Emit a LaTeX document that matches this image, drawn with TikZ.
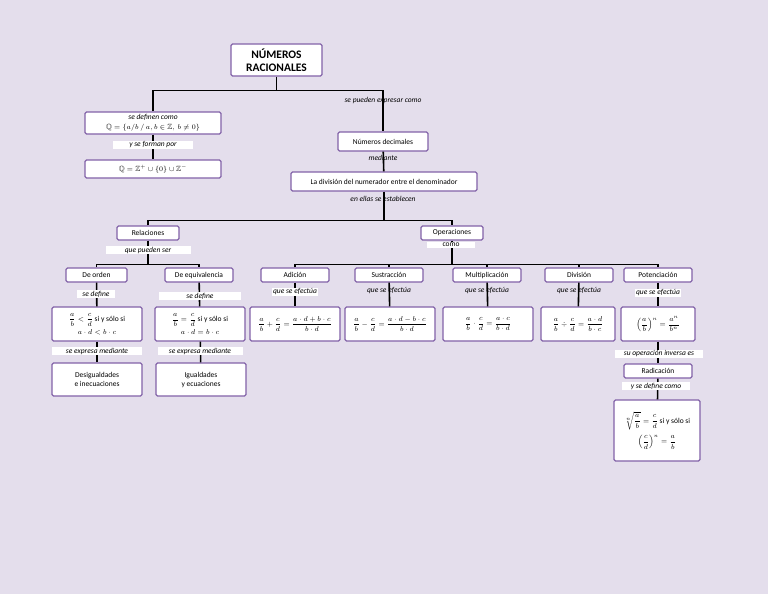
\documentclass[tikz,border=0pt]{standalone}
\usepackage{fontspec}
\setmainfont{Carlito}
\usepackage{amsmath,amssymb}
\definecolor{bg}{HTML}{E4DEEC}
\definecolor{bc}{HTML}{8262A8}
\begin{document}
\begin{tikzpicture}[x=1pt,y=-1pt,
  box/.style={draw=bc,fill=white,line width=1.3pt,rounded corners=1.5pt,inner sep=1pt,align=center,font=\fontsize{7.5}{9}\selectfont},
  lbl/.style={inner sep=1pt,align=center,font=\fontsize{7.5}{9}\selectfont\itshape},
  wl/.style={lbl,fill=white},
  con/.style={line width=1.6pt}]
\fill[bg] (0,0) rectangle (768,594);
\useasboundingbox (0,0) rectangle (768,594);
% boxes
\node[box,minimum width=91,minimum height=32,font=\fontsize{11.5}{12.5}\selectfont\bfseries] (title) at (276.5,60) {NÚMEROS\\RACIONALES};
\node[box,minimum width=136,minimum height=22] (def1) at (153,123) {\itshape se definen como\\[1pt]$\mathbb{Q}=\{a/b\ /\ a,b\in\mathbb{Z},\,b\neq0\}$};
\node[box,minimum width=136,minimum height=18] (def2) at (153,169) {$\mathbb{Q}=\mathbb{Z}^{+}\cup\{0\}\cup\mathbb{Z}^{-}$};
\node[box,minimum width=90,minimum height=19] (dec) at (383,141.5) {Números decimales};
\node[box,minimum width=186,minimum height=19] (divi) at (384,181.5) {La división del numerador entre el denominador};
\node[box,minimum width=62,minimum height=14] (rel) at (148,233) {Relaciones};
\node[box,minimum width=62,minimum height=14] (ope) at (452,233) {Operaciones};
\node[box,minimum width=61,minimum height=14] (ord) at (96.5,275) {De orden};
\node[box,minimum width=68,minimum height=14] (equ) at (199,275) {De equivalencia};
\node[box,minimum width=68,minimum height=14] (adi) at (295,275) {Adición};
\node[box,minimum width=68,minimum height=14] (sus) at (389,275) {Sustracción};
\node[box,minimum width=68,minimum height=14] (mul) at (487,275) {Multiplicación};
\node[box,minimum width=68,minimum height=14] (dvs) at (579,275) {División};
\node[box,minimum width=68,minimum height=14] (pot) at (658,275) {Potenciación};
\node[box,minimum width=90,minimum height=34] (fo) at (97,324) {$\dfrac{a}{b}<\dfrac{c}{d}$ si y sólo si\\[2pt]$a\cdot d<b\cdot c$};
\node[box,minimum width=90,minimum height=34] (fe) at (200,324) {$\dfrac{a}{b}=\dfrac{c}{d}$ si y sólo si\\[2pt]$a\cdot d=b\cdot c$};
\node[box,minimum width=90,minimum height=34] (fa) at (295,324) {$\dfrac{a}{b}+\dfrac{c}{d}=\dfrac{a\cdot d+b\cdot c}{b\cdot d}$};
\node[box,minimum width=90,minimum height=34] (fs) at (390,324) {$\dfrac{a}{b}-\dfrac{c}{d}=\dfrac{a\cdot d-b\cdot c}{b\cdot d}$};
\node[box,minimum width=90,minimum height=34] (fm) at (488,324) {$\dfrac{a}{b}\cdot\dfrac{c}{d}=\dfrac{a\cdot c}{b\cdot d}$};
\node[box,minimum width=74,minimum height=34] (fd) at (578,324) {$\dfrac{a}{b}\div\dfrac{c}{d}=\dfrac{a\cdot d}{b\cdot c}$};
\node[box,minimum width=74,minimum height=34] (fp) at (658,324) {$\left(\dfrac{a}{b}\right)^{n}=\dfrac{a^{n}}{b^{n}}$};
\node[box,minimum width=90,minimum height=33] (des) at (97,379.5) {Desigualdades\\e inecuaciones};
\node[box,minimum width=90,minimum height=33] (igu) at (201,379.5) {Igualdades\\y ecuaciones};
\node[box,minimum width=68,minimum height=14] (rad) at (658,371) {Radicación};
\node[box,minimum width=86,minimum height=61] (fr) at (657,430.5) {$\sqrt[n]{\dfrac{a}{b}}=\dfrac{c}{d}$ si y sólo si\\[4pt]$\left(\dfrac{c}{d}\right)^{n}=\dfrac{a}{b}$};
% connectors
\draw[con] (title.south) -- ++(0,14) coordinate (t1);
\draw[con] (def1.north) |- (t1) -| (dec.north);
\draw[con] (def1) -- (def2);
\draw[con] (dec) -- (divi);
\draw[con] (divi.south) -- ++(0,29) coordinate (t2);
\draw[con] (rel.north) |- (t2) -| (ope.north);
\draw[con] (rel.south) -- ++(0,24) coordinate (t3);
\draw[con] (ord.north) |- (t3) -| (equ.north);
\draw[con] (ope.south) -- ++(0,24) coordinate (t4);
\draw[con] (adi.north) |- (t4) -| (pot.north);
\draw[con] (sus.north) -- (sus.north|-t4);
\draw[con] (mul.north) -- (mul.north|-t4);
\draw[con] (dvs.north) -- (dvs.north|-t4);
\draw[con] (ord) -- (fo); \draw[con] (equ) -- (fe);
\draw[con] (adi) -- (fa); \draw[con] (sus) -- (fs);
\draw[con] (mul) -- (fm); \draw[con] (dvs) -- (fd);
\draw[con] (pot) -- (fp);
\draw[con] (fo) -- (des); \draw[con] (fe) -- (igu);
\draw[con] (fp) -- (rad); \draw[con] (rad) -- (fr);
% labels
\node[lbl] (l1) at (383,101) {se pueden expresar como};
\node[wl,minimum width=80] (l2) at (153,145) {y se forman por};
\node[lbl] (l3) at (383,158) {mediante};
\node[lbl] (l4) at (383,199) {en ellas se establecen};
\node[wl,minimum width=85] (l5) at (148,250) {que pueden ser};
\node[wl,minimum width=48,font=\fontsize{7.5}{9}\selectfont] (l6) at (451,245) {como};
\node[wl,minimum width=38] (l7) at (96,294) {se define};
\node[wl,minimum width=82] (l8) at (200,296) {se define};
\node[wl] (l9) at (295,292) {que se efectúa};
\node[lbl] (l10) at (389,291) {que se efectúa};
\node[lbl] (l11) at (487,291) {que se efectúa};
\node[lbl] (l12) at (579,291) {que se efectúa};
\node[wl] (l13) at (658,293) {que se efectúa};
\node[wl,minimum width=90] (l14) at (97,351) {se expresa mediante};
\node[wl,minimum width=85] (l15) at (200,351) {se expresa mediante};
\node[wl,minimum width=88] (l16) at (659,354) {su operación inversa es};
\node[wl,minimum width=68] (l17) at (656,386) {y se define como};
\end{tikzpicture}
\end{document}
